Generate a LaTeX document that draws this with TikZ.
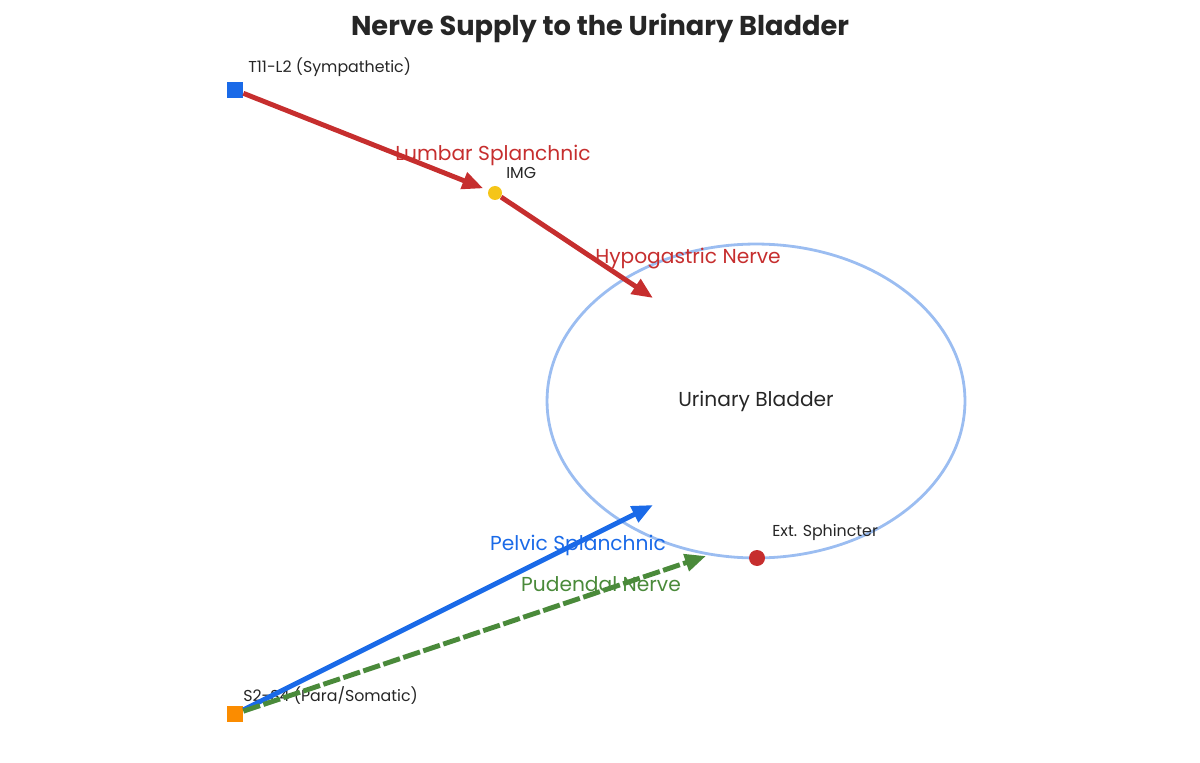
\documentclass[tikz,border=0pt]{standalone}
\usepackage{fontspec}
\setmainfont{Poppins}
\usepackage{xcolor}
\usetikzlibrary{shapes,arrows.meta,positioning}
\definecolor{nred}{HTML}{C62E2E}
\definecolor{nblue}{HTML}{1A6AE8}
\definecolor{ngreen}{HTML}{4A8A3A}
\definecolor{norange}{HTML}{FB8C00}
\definecolor{nyellow}{HTML}{F5C518}
\definecolor{bladder}{HTML}{9BBDF1}
\begin{document}
\begin{tikzpicture}[
    x=0.02cm, y=-0.02cm,
    root/.style={rectangle, minimum size=0.32cm, inner sep=0pt},
    ganglion/.style={circle, inner sep=0pt, minimum size=#1},
    tag/.style={font=\fontsize{9}{11}\selectfont, text=black!85, anchor=west, inner sep=0pt},
    nerve/.style={font=\fontsize{11.5}{13}\selectfont, inner sep=0pt},
    arrow/.style={-{Triangle[length=0.42cm, width=0.34cm]}, line width=2.8pt}
]
    \useasboundingbox (0,0) rectangle (1200,763);
    \node[font=\bfseries\fontsize{15.5}{18}\selectfont, text=black!85] (title) at (600,28) {Nerve Supply to the Urinary Bladder};

    \node[draw=bladder, line width=1.6pt, ellipse, minimum width=8.36cm, minimum height=6.28cm] (bladder) at (756,401) {};
    \node[font=\fontsize{11.5}{13}\selectfont, text=black!85] at (756,401) {Urinary Bladder};

    \node[root, fill=nblue] (t11) at (235,90) {};
    \node[tag] at (248,67) {T11-L2 (Sympathetic)};
    \node[root, fill=norange] (s2) at (235,714) {};
    \node[tag] at (243,696) {S2-S4 (Para/Somatic)};
    \node[ganglion=0.28cm, fill=nyellow] (img) at (495,193) {};
    \node[tag] at (506,173) {IMG};
    \node[ganglion=0.32cm, fill=nred] (sph) at (757,558) {};
    \node[tag] at (772,533) {Ext. Sphincter};

    \coordinate (hyp) at (653,298);
    \coordinate (pel) at (653,505);
    \coordinate (pud) at (706,556);

    \draw[arrow, nred, shorten >=3pt] (t11) -- (img);
    \draw[arrow, nred] (img) -- (hyp);
    \draw[arrow, nblue] (s2) -- (pel);
    \draw[arrow, ngreen, dashed, dash pattern=on 10pt off 2pt] (s2) -- (pud);

    \node[nerve, text=nred] at (493,155) {Lumbar Splanchnic};
    \node[nerve, text=nred] at (688,259) {Hypogastric Nerve};
    \node[nerve, text=nblue] at (578,545) {Pelvic Splanchnic};
    \node[nerve, text=ngreen] at (601,584) {Pudendal Nerve};
\end{tikzpicture}
\end{document}
